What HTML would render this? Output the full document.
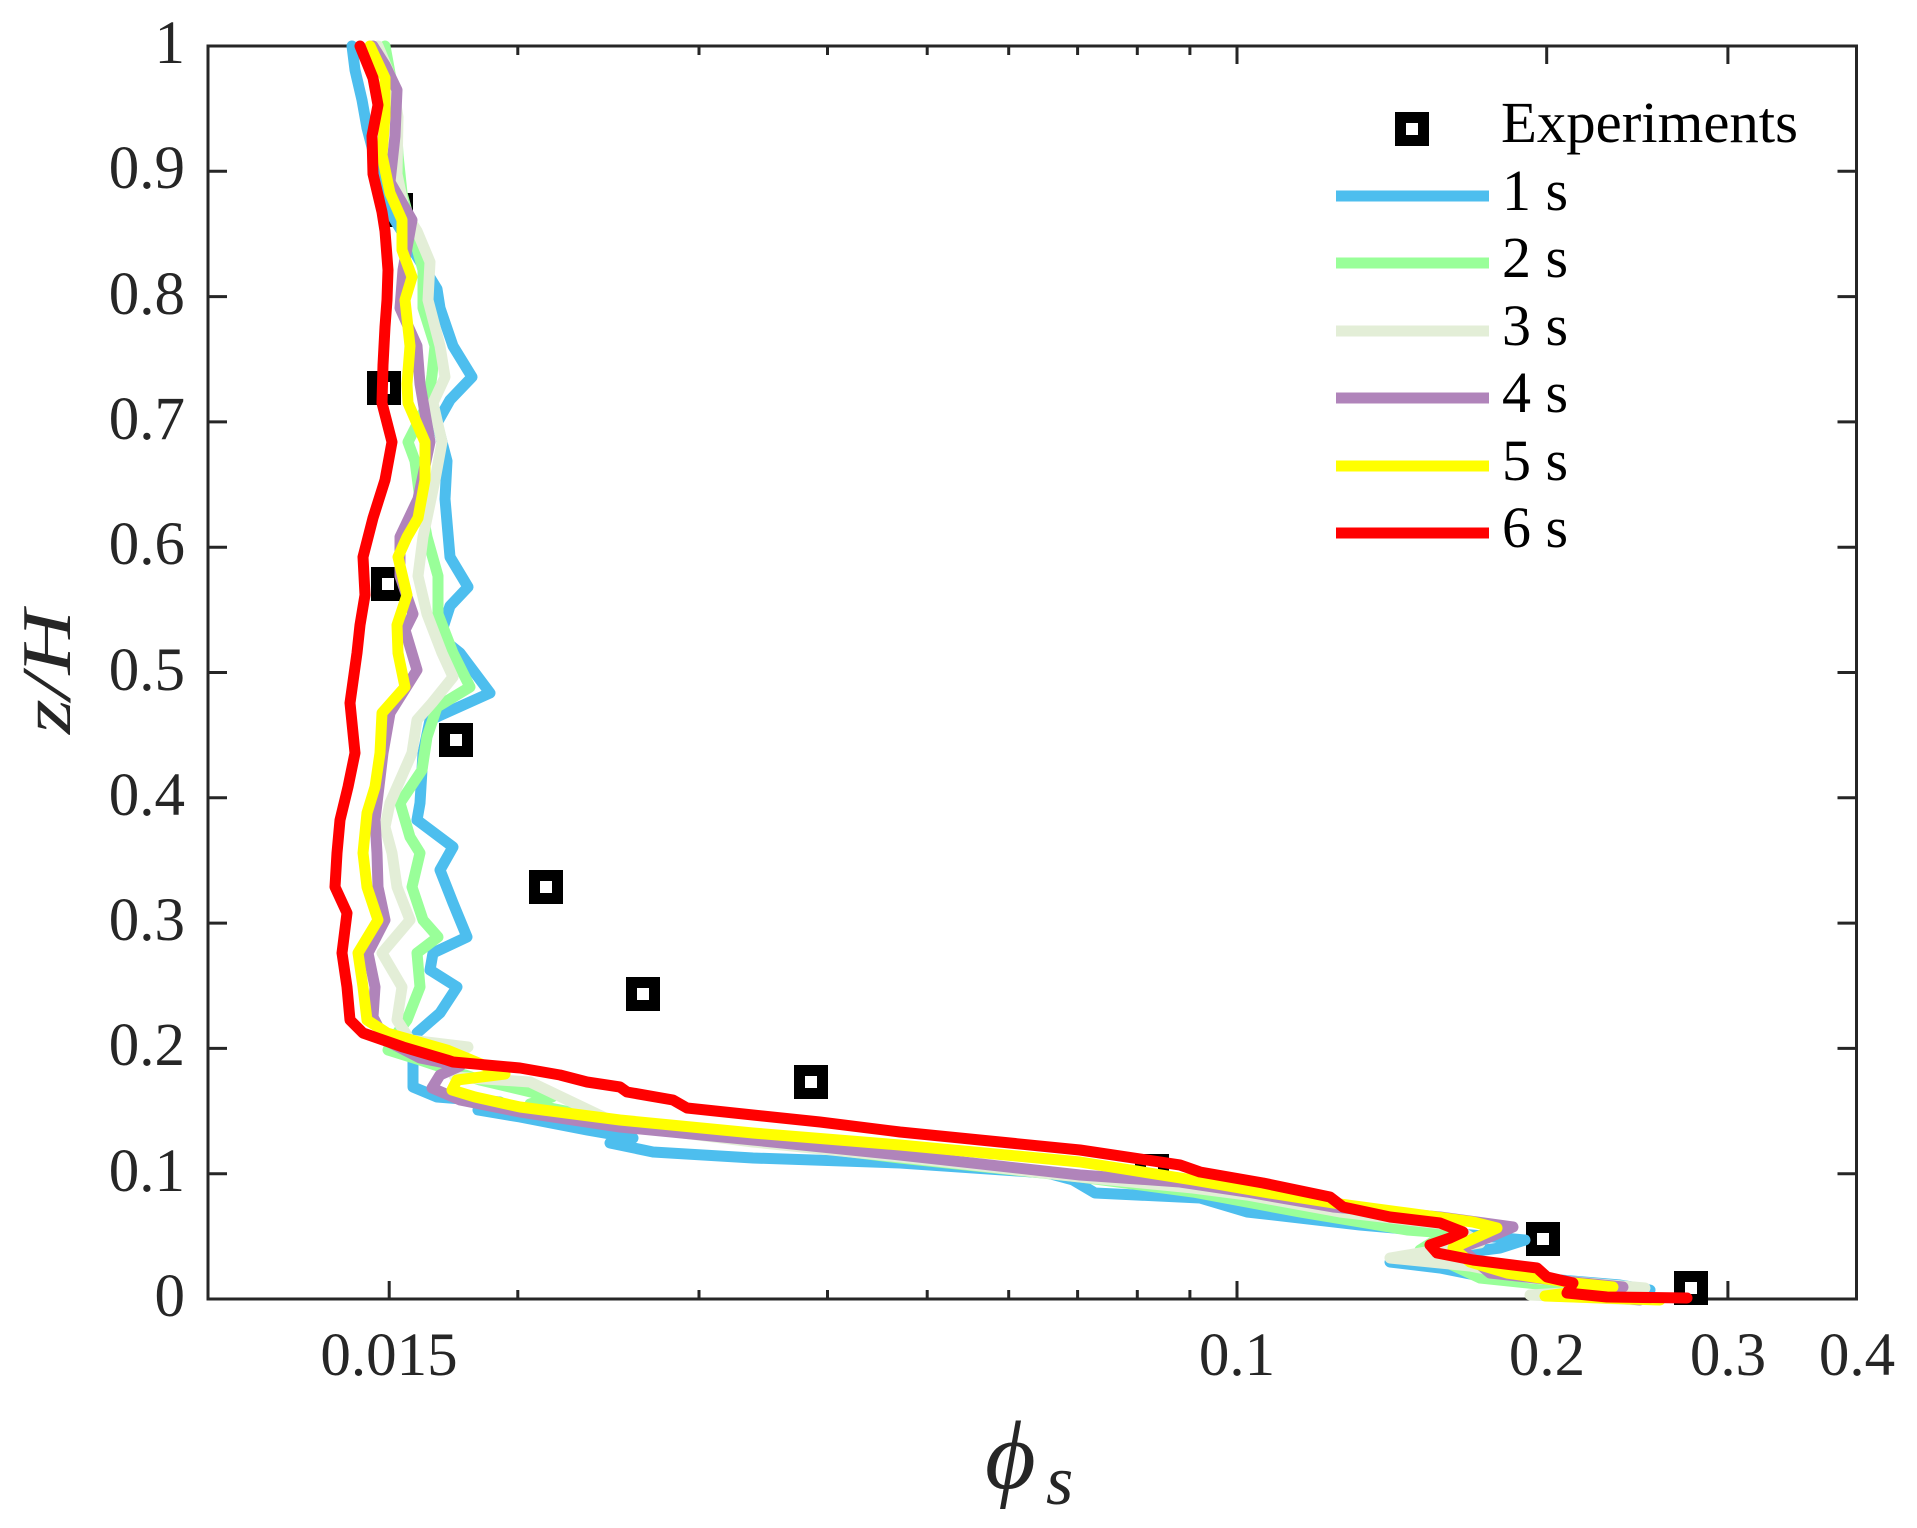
<!DOCTYPE html>
<html><head><meta charset="utf-8"><style>
html,body{margin:0;padding:0;background:#fff;}
svg{display:block;}
text{font-family:"Liberation Serif","DejaVu Serif",serif;fill:#262626;}
</style></head><body>
<svg width="1917" height="1528" viewBox="0 0 1917 1528" xmlns="http://www.w3.org/2000/svg">
<rect width="1917" height="1528" fill="#fff"/>
<!-- axes box -->
<rect x="208" y="46" width="1648.5" height="1253" fill="none" stroke="#262626" stroke-width="3"/>
<g stroke="#262626" stroke-width="3">
<!-- y ticks left & right -->
<path d="M208 1173.7h19M208 1048.4h19M208 923.1h19M208 797.8h19M208 672.5h19M208 547.2h19M208 421.9h19M208 296.6h19M208 171.3h19"/>
<path d="M1856.5 1173.7h-19M1856.5 1048.4h-19M1856.5 923.1h-19M1856.5 797.8h-19M1856.5 672.5h-19M1856.5 547.2h-19M1856.5 421.9h-19M1856.5 296.6h-19M1856.5 171.3h-19"/>
<!-- x major ticks -->
<path d="M389.2 1299v-18M1237 1299v-18M1546.7 1299v-18M1727.9 1299v-18"/>
<path d="M389.2 46v18M1237 46v18M1546.7 46v18M1727.9 46v18"/>
<!-- x minor ticks -->
<path d="M517.8 1299v-9M699 1299v-9M827.5 1299v-9M927.2 1299v-9M1008.7 1299v-9M1077.6 1299v-9M1137.3 1299v-9M1189.9 1299v-9"/>
<path d="M517.8 46v9M699 46v9M827.5 46v9M927.2 46v9M1008.7 46v9M1077.6 46v9M1137.3 46v9M1189.9 46v9"/>
</g>
<!-- y tick labels -->
<g font-size="61" text-anchor="end">
<text x="185" y="1316">0</text>
<text x="185" y="1191">0.1</text>
<text x="185" y="1065">0.2</text>
<text x="185" y="940">0.3</text>
<text x="185" y="815">0.4</text>
<text x="185" y="690">0.5</text>
<text x="185" y="564">0.6</text>
<text x="185" y="439">0.7</text>
<text x="185" y="314">0.8</text>
<text x="185" y="188">0.9</text>
<text x="185" y="63">1</text>
</g>
<!-- x tick labels -->
<g font-size="61" text-anchor="middle">
<text x="389" y="1375">0.015</text>
<text x="1237" y="1375">0.1</text>
<text x="1547" y="1375">0.2</text>
<text x="1728" y="1375">0.3</text>
<text x="1857" y="1375">0.4</text>
</g>
<!-- axis labels -->
<text transform="translate(70,672) rotate(-90)" font-size="70" font-style="italic" text-anchor="middle" textLength="124" lengthAdjust="spacingAndGlyphs">z/H</text>
<text x="985" y="1488" font-size="98" font-style="italic">ϕ</text>
<text x="1046" y="1504" font-size="70" font-style="italic">s</text>

<!-- experiment markers -->
<g fill="none" stroke="#000" stroke-width="11">
<rect x="384.5" y="198.5" width="23" height="23"/>
<rect x="372.5" y="376.5" width="23" height="23"/>
<rect x="376.5" y="572.5" width="23" height="23"/>
<rect x="444.5" y="728.5" width="23" height="23"/>
<rect x="534.5" y="875.5" width="23" height="23"/>
<rect x="631.5" y="982.5" width="23" height="23"/>
<rect x="799.5" y="1070.5" width="23" height="23"/>
<rect x="1140.5" y="1159.5" width="23" height="23"/>
<rect x="1531.5" y="1227.5" width="23" height="23"/>
<rect x="1679.5" y="1276.5" width="23" height="23"/>
</g>

<g fill="none" stroke-width="11" stroke-linejoin="round" stroke-linecap="round">
<!-- 1 s blue -->
<polyline stroke="#4DBEEE" points="352,46 355,70 362,100 367,128 378,170 390,212 413,250 437,289 440,308 453,346 472,377 450,400 437,423 447,461 445,499 450,557 468,587 450,606 440,637 460,653 490,693 430,720 423,753 420,803 417,820 453,847 440,870 453,903 467,937 433,953 430,970 457,987 440,1013 417,1033 413,1060 413,1087 437,1097 500,1102 478,1110 520,1117 587,1130 633,1138 610,1143 653,1152 753,1158 900,1163 1047,1173 1073,1180 1095,1193 1200,1198 1247,1212 1360,1225 1440,1232 1525,1240 1500,1248 1390,1262 1440,1268 1480,1276 1560,1280 1620,1285 1650,1290"/>
<!-- 2 s green -->
<polyline stroke="#99FF99" points="385,46 395,100 398,155 402,193 412,230 423,270 423,308 435,346 432,375 428,403 408,442 415,461 420,499 427,537 438,576 438,614 453,653 470,687 437,707 427,737 422,770 400,803 410,837 420,853 412,887 423,920 438,937 417,953 420,987 407,1020 392,1040 388,1050 420,1060 480,1080 552,1097 530,1104 620,1122 753,1140 900,1158 1080,1177 1193,1192 1300,1212 1360,1222 1407,1230 1447,1233 1420,1250 1480,1278 1547,1285 1620,1292"/>
<!-- 3 s pale -->
<polyline stroke="#E3EED7" points="378,46 392,80 398,117 397,174 405,212 417,231 430,262 428,300 440,346 445,377 433,403 442,442 435,480 423,537 418,576 427,614 442,653 453,677 432,703 417,720 412,753 390,803 385,827 392,853 397,887 410,920 382,953 402,987 397,1020 410,1040 468,1047 445,1062 455,1077 530,1082 620,1125 753,1142 900,1157 1080,1177 1193,1188 1247,1195 1340,1212 1450,1225 1480,1243 1390,1258 1470,1266 1530,1278 1645,1288 1530,1295 1640,1300"/>
<!-- 4 s purple -->
<polyline stroke="#B084BA" points="373,46 385,65 397,90 395,136 390,182 412,220 403,270 400,308 417,346 420,384 430,442 418,499 400,537 400,576 413,614 405,630 417,670 390,713 383,753 375,820 377,853 378,887 385,920 368,953 375,987 373,1017 385,1040 420,1058 460,1066 440,1075 432,1088 460,1100 520,1112 620,1127 753,1140 900,1155 1080,1175 1180,1182 1247,1192 1333,1207 1440,1217 1513,1227 1490,1237 1460,1248 1490,1273 1573,1282 1623,1287 1600,1296 1640,1300"/>
<!-- 5 s yellow -->
<polyline stroke="#FFFF00" points="370,46 385,78 385,116 382,155 390,193 402,220 402,250 412,277 405,300 410,346 407,384 408,403 425,442 425,480 418,518 407,537 398,557 407,595 397,625 398,653 405,687 382,713 380,753 375,787 367,813 363,853 367,887 378,920 358,953 363,987 367,1020 387,1033 447,1050 505,1074 457,1080 452,1090 475,1097 520,1107 620,1120 753,1133 900,1145 1080,1162 1193,1180 1263,1192 1333,1203 1407,1213 1473,1222 1497,1228 1453,1248 1470,1262 1507,1273 1573,1283 1613,1287 1545,1296 1660,1300"/>
<!-- 6 s red -->
<polyline stroke="#FF0000" points="360,46 373,78 378,105 372,136 373,174 382,212 385,231 388,270 387,300 385,327 383,365 382,403 392,442 385,480 373,518 363,557 365,595 360,625 357,653 350,703 355,753 348,787 340,820 337,853 335,887 347,913 342,953 347,987 350,1020 363,1033 403,1047 447,1060 453,1062 520,1068 560,1075 587,1082 620,1087 627,1092 673,1100 687,1108 753,1115 820,1122 900,1132 980,1140 1080,1150 1180,1165 1200,1172 1263,1183 1330,1197 1343,1207 1390,1217 1440,1223 1463,1232 1450,1238 1430,1245 1437,1253 1473,1260 1537,1268 1547,1277 1573,1283 1567,1293 1607,1297 1687,1298"/>
</g>

<!-- legend -->
<rect x="1400.5" y="117.5" width="23" height="23" fill="none" stroke="#000" stroke-width="11"/>
<g stroke-width="11">
<line x1="1336" y1="196" x2="1489" y2="196" stroke="#4DBEEE"/>
<line x1="1336" y1="263" x2="1489" y2="263" stroke="#99FF99"/>
<line x1="1336" y1="331" x2="1489" y2="331" stroke="#E3EED7"/>
<line x1="1336" y1="398" x2="1489" y2="398" stroke="#B084BA"/>
<line x1="1336" y1="466" x2="1489" y2="466" stroke="#FFFF00"/>
<line x1="1336" y1="533" x2="1489" y2="533" stroke="#FF0000"/>
</g>
<g font-size="58" style="fill:#000">
<text x="1501" y="142" textLength="297" lengthAdjust="spacingAndGlyphs" style="fill:#000">Experiments</text>
<text x="1502" y="210" style="fill:#000">1 s</text>
<text x="1502" y="277" style="fill:#000">2 s</text>
<text x="1502" y="345" style="fill:#000">3 s</text>
<text x="1502" y="412" style="fill:#000">4 s</text>
<text x="1502" y="480" style="fill:#000">5 s</text>
<text x="1502" y="547" style="fill:#000">6 s</text>
</g>
</svg>
</body></html>
